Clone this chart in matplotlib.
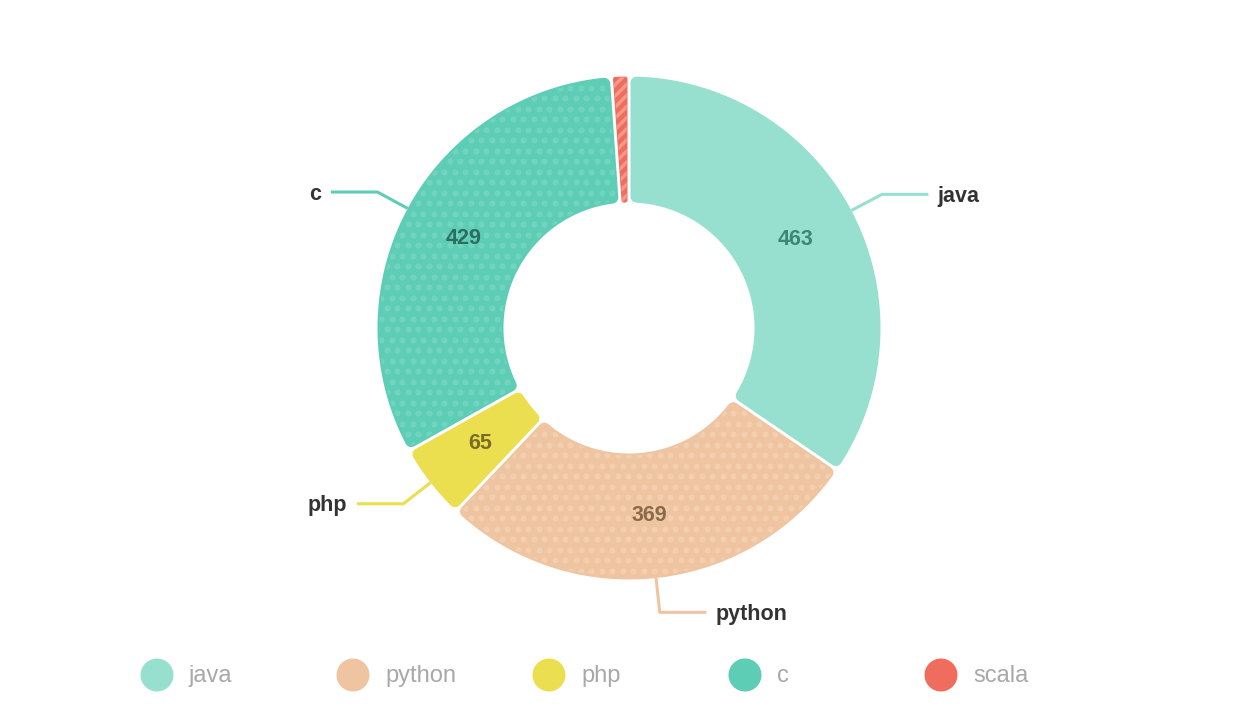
import numpy as np
import matplotlib
matplotlib.use("Agg")
import matplotlib.pyplot as plt
from matplotlib.patches import Polygon, Circle

# ---- data ----
categories = ["java", "python", "php", "c", "scala"]
values = [463, 369, 65, 429, 15]
show_labels = [True, True, True, True, False]

colors = ["#97e0d0", "#efc4a1", "#ebde4f", "#5dcdb5", "#f06d5d"]
pattern_colors = [None, "#f4d1b3", None, "#76d6c1", "#f5998a"]
patterns = [None, "dots", None, "dots", "///"]
value_colors = ["#3d8575", "#8a6a4c", "#7a6e24", "#2c6d5f", "#8a3a30"]

plt.rcParams["font.family"] = ["Liberation Sans", "DejaVu Sans"]
plt.rcParams["hatch.linewidth"] = 2.5

W, H = 1258, 720
fig = plt.figure(figsize=(W / 100, H / 100), dpi=100)
ax = fig.add_axes([0, 0, 1, 1])

cx, cy = 629, H - 328
r_out, r_in = 253, 124
gap = 3.0
corner = 6.0
PX2PT = 72 / 100

wedges, _ = ax.pie(values, colors=colors, startangle=90, counterclock=False,
                   radius=r_out, center=(cx, cy), frame=True,
                   wedgeprops=dict(width=r_out - r_in, linewidth=0))
ax.set_xlim(0, W)
ax.set_ylim(0, H)
ax.set_aspect("equal")
ax.axis("off")


def inset_sector(t1, t2, ri, ro, d, n=120):
    """Annular sector (degrees) offset inward by distance d."""
    Ro, Ri = ro - d, ri + d
    ao = np.degrees(np.arcsin(d / Ro))
    ai = np.degrees(np.arcsin(d / Ri))
    a_out = np.radians(np.linspace(t1 + ao, t2 - ao, n))
    a_in = np.radians(np.linspace(t2 - ai, t1 + ai, n))
    xs = np.concatenate([cx + Ro * np.cos(a_out), cx + Ri * np.cos(a_in)])
    ys = np.concatenate([cy + Ro * np.sin(a_out), cy + Ri * np.sin(a_in)])
    return np.column_stack([xs, ys])


for w, col, pat, pc in zip(wedges, colors, patterns, pattern_colors):
    w.set_visible(False)
    t1, t2 = w.theta1, w.theta2
    span = np.radians(t2 - t1)
    rc = min(corner, max(0.8, (r_in * span - gap) / 2 * 0.8))
    verts = inset_sector(t1, t2, r_in, r_out, gap / 2 + rc)
    body = Polygon(verts, closed=True, facecolor=col, edgecolor=col,
                   linewidth=2 * rc * PX2PT, joinstyle="round", zorder=2)
    ax.add_patch(body)
    if pat is None:
        continue
    clip_verts = inset_sector(t1, t2, r_in, r_out, gap / 2 + 0.32 * rc)
    clip = Polygon(clip_verts, closed=True, facecolor="none",
                   edgecolor="none", transform=ax.transData)
    if pat == "dots":
        step = 10.5
        xs, ys = [], []
        for j, yy in enumerate(np.arange(cy - r_out, cy + r_out + step, step)):
            off = (j % 2) * step / 2
            for xx in np.arange(cx - r_out - step + off, cx + r_out + step, step):
                xs.append(xx)
                ys.append(yy)
        sc = ax.scatter(xs, ys, s=(6.0 * PX2PT) ** 2, color=pc, linewidths=0,
                        zorder=3, alpha=0.85)
        sc.set_clip_path(clip)
    else:
        hp = Polygon(clip_verts, closed=True, facecolor="none", edgecolor=pc,
                     linewidth=0, hatch=pat, zorder=3)
        ax.add_patch(hp)

r_mid = (r_out + r_in) / 2
len1, len2 = 33, 45
for w, name, val, vc, c, show in zip(wedges, categories, values, value_colors,
                                     colors, show_labels):
    if not show:
        continue
    ang = np.deg2rad((w.theta1 + w.theta2) / 2)
    ca, sa = np.cos(ang), np.sin(ang)
    ax.text(cx + r_mid * ca, cy + r_mid * sa, str(val), ha="center",
            va="center", fontsize=15.5, fontweight="bold", color=vc, zorder=5)
    x0, y0 = cx + r_out * ca, cy + r_out * sa
    x1, y1 = cx + (r_out + len1) * ca, cy + (r_out + len1) * sa
    sgn = 1 if ca >= 0 else -1
    x2 = x1 + sgn * len2
    ax.plot([x0, x1, x2], [y0, y1, y1], color=c, lw=2.2, zorder=1,
            solid_joinstyle="round")
    ax.text(x2 + sgn * 11, y1 - 2, name, ha="left" if sgn > 0 else "right",
            va="center", fontsize=15.5, fontweight="bold", color="#333333")

# legend
lx0, lstep, ly = 157, 196, H - 675
for i, (name, c) in enumerate(zip(categories, colors)):
    x = lx0 + i * lstep
    ax.add_patch(Circle((x, ly), 16.5, facecolor=c, edgecolor="none"))
    ax.text(x + 32, ly - 1, name, ha="left", va="center", fontsize=17,
            color="#a8a8a8")

fig.savefig("out.png", dpi=100, facecolor="white")
